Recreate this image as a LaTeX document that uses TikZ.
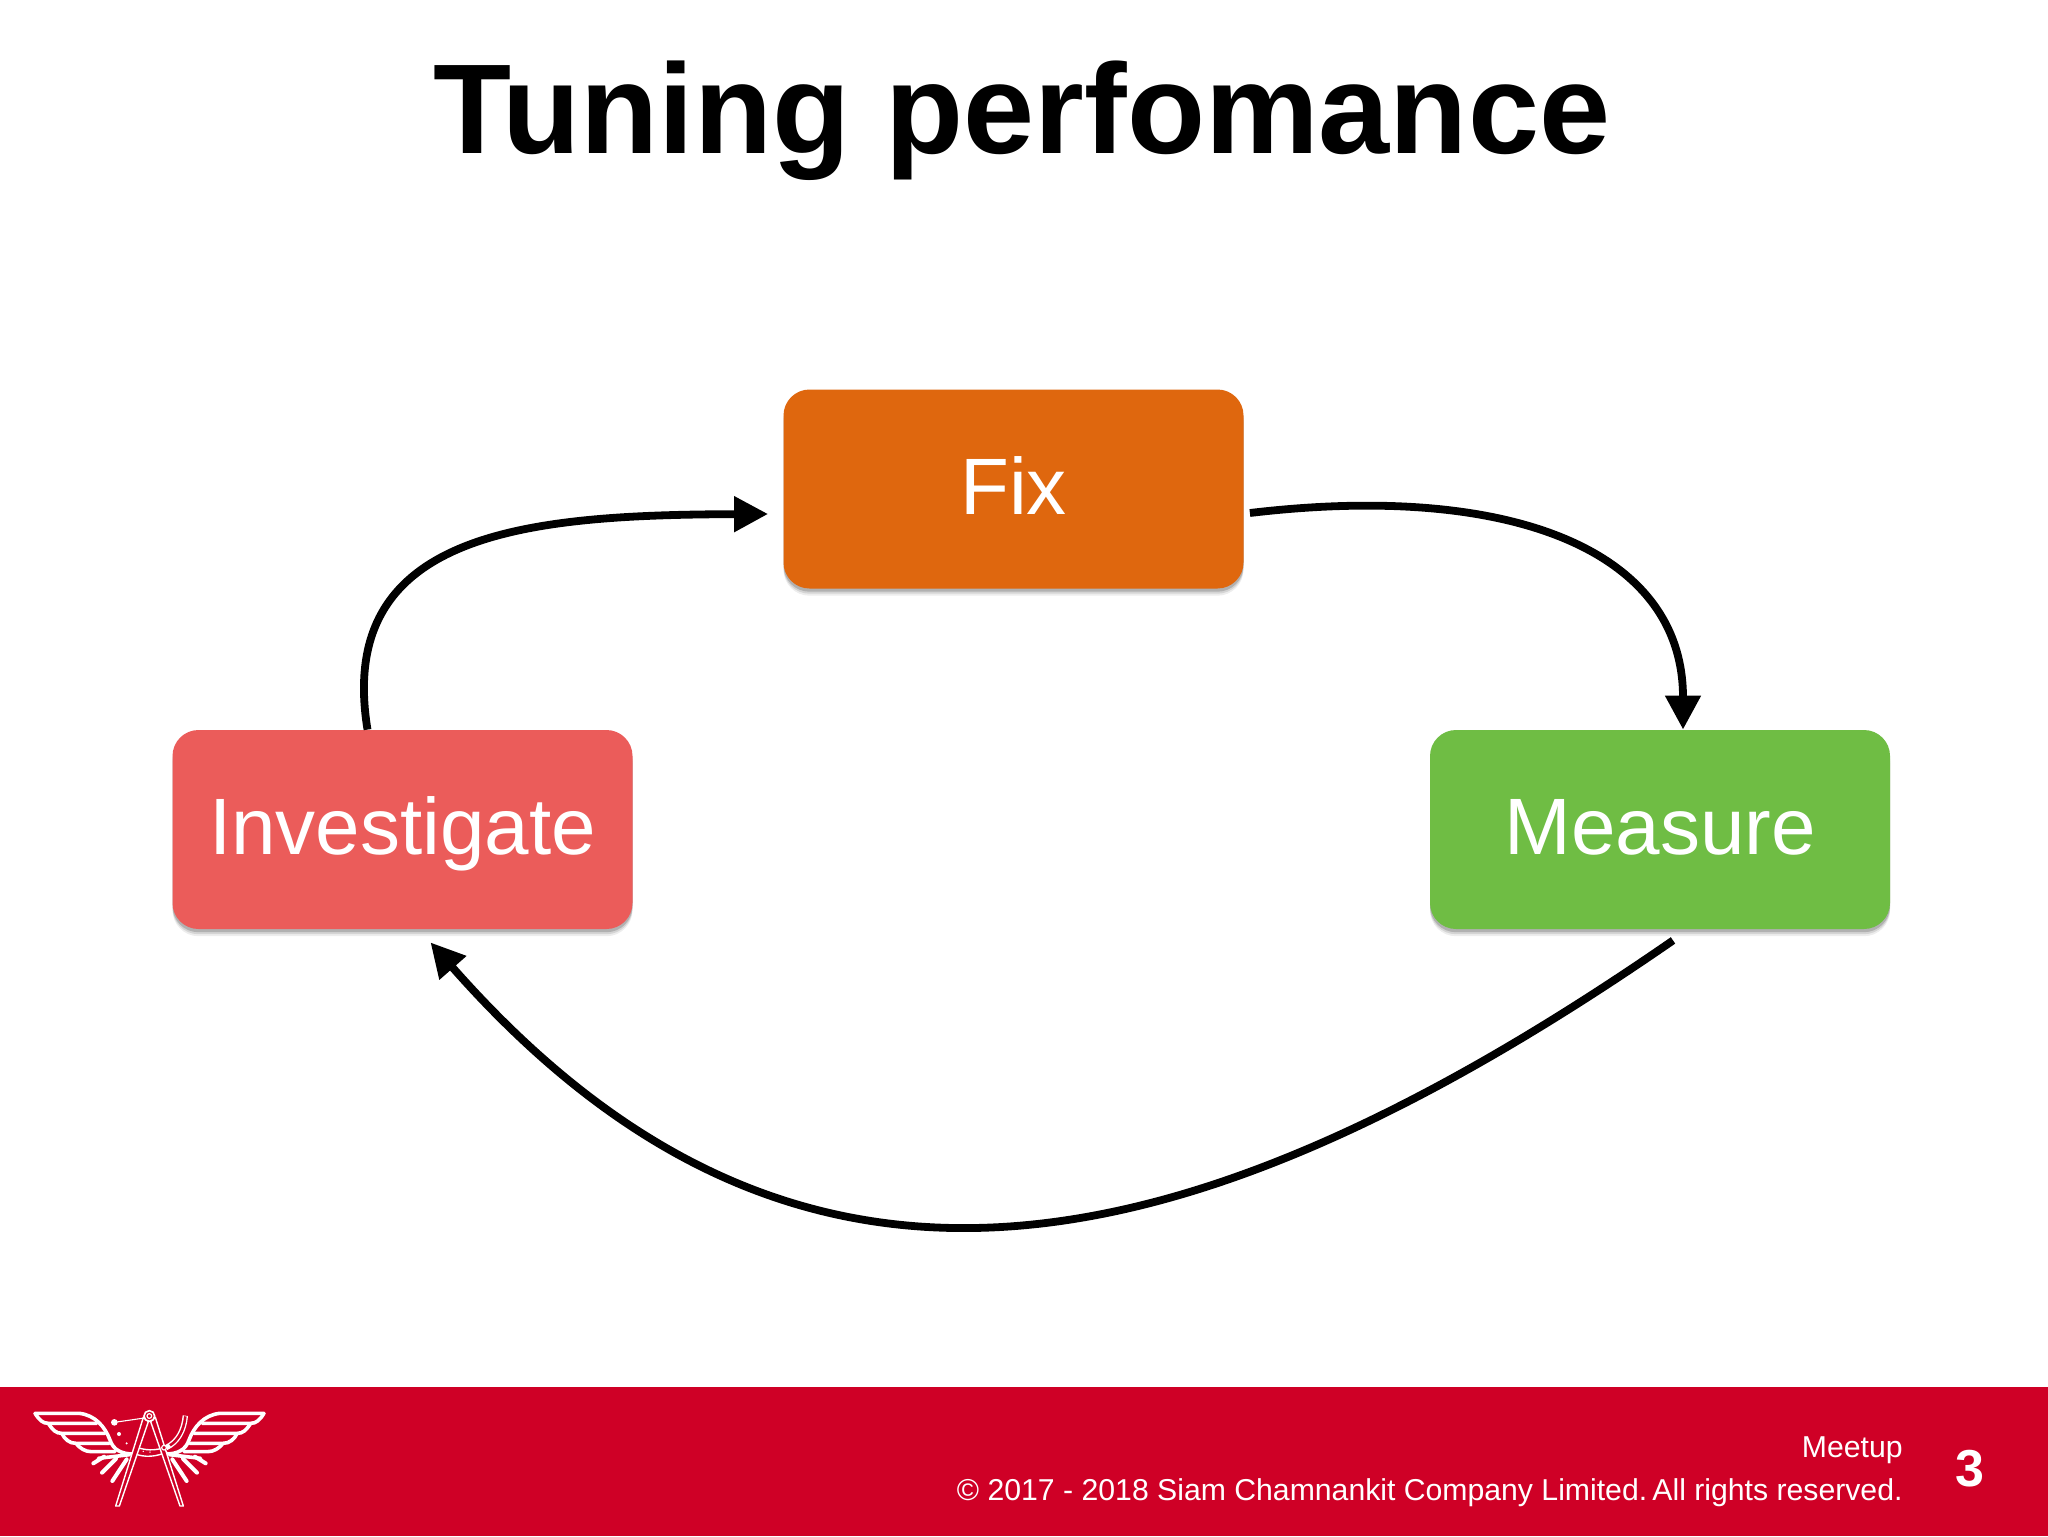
\documentclass[tikz,border=0pt]{standalone}
\usepackage{fontspec}
\setmainfont{Liberation Sans}
\usetikzlibrary{arrows.meta}
\definecolor{fixc}{HTML}{DF670E}
\definecolor{invc}{HTML}{EB5C5A}
\definecolor{meac}{HTML}{6FBD44}
\definecolor{redbar}{HTML}{CF0026}
\tikzset{
  softshadow/.style={preaction={fill=black,opacity=.07,transform canvas={yshift=-3.6pt}},
                     preaction={fill=black,opacity=.10,transform canvas={yshift=-2.6pt}},
                     preaction={fill=black,opacity=.16,transform canvas={yshift=-1.6pt}}},
  boxnode/.style={rounded corners=13pt,minimum width=230pt,minimum height=99.5pt,inner sep=0pt,
     text=white,font=\fontsize{40}{40}\selectfont,text height=25pt,text depth=0pt,softshadow},
  flow/.style={line width=3.9pt,-{Triangle[length=17pt,width=17pt]}},
  foot/.style={text=white,font=\fontsize{15.1}{15}\selectfont,inner sep=0pt,anchor=base east},
  wingline/.style={draw=white,line width=1.8pt,line join=round,line cap=round},
  rayline/.style={draw=white,line width=2pt,line cap=round},
  thinline/.style={draw=white,line width=.7pt,line cap=round,line join=round},
}
\newcommand{\logowing}{%
  \draw[wingline] (105,100) -- (238,100) .. controls (285,105) and (315,140) .. (330,180) .. controls (340,210) and (365,222) .. (400,222);
  \draw[wingline] (105,100) .. controls (118,120) and (128,130) .. (145,130) -- (290,130);
  \draw[wingline] (145,130) .. controls (158,150) and (168,160) .. (185,160) -- (315,160);
  \draw[wingline] (185,160) .. controls (195,178) and (208,190) .. (228,190) -- (328,190);
  \draw[wingline] (228,190) .. controls (240,205) and (255,215) .. (275,215) -- (345,215);
  \draw[wingline] (295,235) -- (388,224);
  \draw[rayline] (280,250) -- (312,230);
  \draw[rayline] (306,278) -- (348,236);
  \draw[rayline] (337,303) -- (380,238);
}
\begin{document}
\begin{tikzpicture}[x=.5pt,y=-.5pt]
\useasboundingbox (0,0) rectangle (2048,1536);
\fill[white] (0,0) rectangle (2048,1536);
\fill[redbar] (0,1387) rectangle (2048,1536);

\node[anchor=base,inner sep=0pt,font=\bfseries\fontsize{63.9}{64}\selectfont] (title) at (1022,154) {Tuning perfomance};

\node[boxnode,fill=fixc] (fix) at (1013.5,489) {Fix};
\node[boxnode,fill=invc] (inv) at (402.5,829.5) {Investigate};
\node[boxnode,fill=meac] (mea) at (1660,829.5) {Measure};

\draw[flow] ([xshift=3pt,yshift=-12pt]fix.east) .. controls (1510,482) and (1683,550) .. ([xshift=11.5pt]mea.north);
\draw[flow] ([xshift=-17.5pt]inv.north) .. controls (335,530) and (530,515) .. ([xshift=-7.5pt,yshift=-12.5pt]fix.west);
\draw[flow] ([xshift=6.5pt,yshift=-5.5pt]mea.south) .. controls (1150,1302) and (777,1336) .. ([xshift=14pt,yshift=-6.5pt]inv.south);

\node[foot] (meetup) at (1903,1457) {Meetup};
\node[foot] (copy) at (1903,1500) {© 2017 - 2018 Siam Chamnankit Company Limited.\kern-3pt{} All rights reserved.};
\node[anchor=base,inner sep=0pt,text=white,font=\bfseries\fontsize{26}{26}\selectfont] (pagenum) at (1970,1486) {3};

\begin{scope}[x=.16667pt,y=-.16667pt,shift={(0pt,-690pt)}]
  \logowing
  \begin{scope}[shift={(149.5pt,0pt)},xscale=-1]
    \logowing
  \end{scope}
  % scale bars
  \draw[thinline] (405,200) .. controls (435,212) and (465,212) .. (492,203);
  \draw[thinline] (400,220) .. controls (435,234) and (470,230) .. (500,216);
  \fill[white] (430,214) circle (2.2) (450,216) circle (2.2);
  % arc band
  \draw[white,line width=2.7pt] (498,203) .. controls (535,185) and (552,150) .. (556,107);
  \draw[redbar,line width=1.3pt] (510,196) .. controls (535,180) and (552,150) .. (556,109);
  % compass legs
  \draw[thinline,fill=redbar] (430,112) -- (347,378) -- (358,378) -- (445,125) -- cycle;
  \draw[thinline,fill=redbar] (466,112) -- (550,378) -- (540,378) -- (452,125) -- cycle;
  % hinge and knob
  \draw[white,line width=.8pt,fill=redbar] (448,108) circle (16);
  \draw[white,line width=.6pt,fill=redbar] (448,108) circle (7);
  \draw[white,line width=.6pt,fill=redbar] (492,203) circle (7);
  % stars
  \fill[white] (343,127) circle (10);
  \fill[white] (357,162) circle (6);
  \fill[white] (380,190) circle (3.5);
  \draw[thinline,line width=.55pt] (343,127) -- (433,114);
\end{scope}
\end{tikzpicture}
\end{document}
